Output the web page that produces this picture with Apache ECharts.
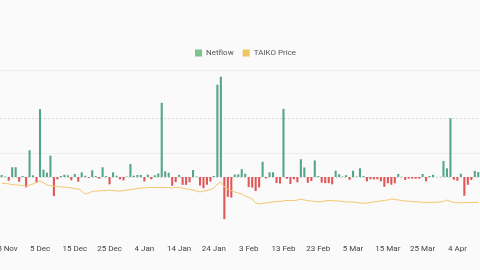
<!DOCTYPE html>
<html>
<head>
<meta charset="utf-8">
<script src="https://cdn.jsdelivr.net/npm/echarts@6/dist/echarts.min.js"></script>
<style>
  html, body { margin: 0; padding: 0; background: #fafafa; }
  #main { width: 480px; height: 270px; }
</style>
</head>
<body>
<div id="main"></div>
<script>
// day labels, one bar per day (24 Nov .. 10 Apr)
var months = [['Nov', 24, 30], ['Dec', 1, 31], ['Jan', 1, 31], ['Feb', 1, 28], ['Mar', 1, 31], ['Apr', 1, 10]];
var days = [];
months.forEach(function (m) {
  for (var d = m[1]; d <= m[2]; d++) days.push(d + ' ' + m[0]);
});

// netflow, thousand TAIKO
var netflow = [
  34, 8, -63, 165, 165, -80, 17, -175, 454, 29,
  -90, 1151, 124, 73, 362, -323, -39, 17, 39, 29,
  -56, 51, -80, 80, 22, -17, 114, 17, -29, 165,
  17, -124, 80, 22, -39, -56, 8, 221, 22, 34,
  34, -77, 39, -39, 29, 60, 1258, 97, 73, -150,
  -88, 37, -133, -133, -88, 119, 8, -145, -190, -131,
  -77, 17, 1564, 1700, -714, -335, -349, 42, 46, 133,
  56, -170, -178, -238, -175, 258, -26, 80, 80, -102,
  -110, 1156, -29, -119, -39, -90, 301, 162, -99, -68,
  281, 17, -94, -105, -105, -124, 107, 46, 8, 31,
  -48, 107, 8, 148, 17, -73, -39, -39, -39, -73,
  -165, -107, -131, -107, 51, 5, -51, -29, -29, -29,
  -29, 51, -73, 17, 39, 3, 3, 272, 148, 995,
  -46, -63, 56, -318, -131, -51, 105, 85
];

// TAIKO price, USD
var price = [
  0.635, 0.633, 0.627, 0.620, 0.614, 0.614, 0.608, 0.602, 0.614, 0.627,
  0.645, 0.663, 0.639, 0.614, 0.608, 0.602, 0.596, 0.590, 0.590, 0.584,
  0.578, 0.572, 0.566, 0.542, 0.506, 0.518, 0.536, 0.542, 0.542, 0.548,
  0.548, 0.554, 0.548, 0.542, 0.542, 0.548, 0.554, 0.560, 0.566, 0.572,
  0.578, 0.578, 0.584, 0.584, 0.584, 0.584, 0.584, 0.584, 0.584, 0.578,
  0.584, 0.584, 0.578, 0.566, 0.560, 0.554, 0.542, 0.530, 0.542, 0.548,
  0.560, 0.578, 0.627, 0.651, 0.590, 0.566, 0.548, 0.530, 0.518, 0.506,
  0.482, 0.464, 0.446, 0.398, 0.386, 0.392, 0.398, 0.404, 0.410, 0.416,
  0.416, 0.422, 0.428, 0.428, 0.428, 0.434, 0.442, 0.434, 0.425, 0.422,
  0.416, 0.413, 0.413, 0.422, 0.428, 0.428, 0.422, 0.422, 0.416, 0.410,
  0.410, 0.410, 0.404, 0.398, 0.394, 0.398, 0.404, 0.410, 0.416, 0.422,
  0.428, 0.434, 0.446, 0.440, 0.434, 0.428, 0.422, 0.419, 0.416, 0.413,
  0.410, 0.406, 0.404, 0.404, 0.406, 0.407, 0.410, 0.416, 0.434, 0.416,
  0.404, 0.401, 0.401, 0.401, 0.404, 0.404, 0.406, 0.406
];

var chart = echarts.init(document.getElementById('main'));
chart.setOption({
  backgroundColor: '#fafafa',
  animation: false,
  textStyle: { fontFamily: 'Roboto' },
  legend: {
    top: 44,
    left: 190,
    itemWidth: 7,
    itemHeight: 7,
    itemGap: 9,
    textStyle: { fontSize: 8, color: '#555', padding: [0, 0, 0, -1] },
    data: [
      { name: 'Netflow', icon: 'rect', itemStyle: { color: '#7cc48e' } },
      { name: 'TAIKO Price', icon: 'rect', itemStyle: { color: '#f2c45e' } }
    ]
  },
  grid: { left: 0, right: 0, top: 70, bottom: 34, containLabel: false, outerBoundsMode: 'none' },
  xAxis: {
    type: 'category',
    data: days,
    axisLine: { show: false },
    axisTick: { show: false },
    axisLabel: {
      fontSize: 8,
      color: '#444',
      margin: 9,
      interval: function (i) { return i % 10 === 1; }
    }
  },
  yAxis: [
    {
      type: 'value',
      min: -1000,
      max: 1814,
      interval: 1000,
      axisLabel: { show: false },
      splitLine: {
        showMinLine: false,
        showMaxLine: false,
        lineStyle: { color: '#d4d4d4', type: [2, 2] }
      }
    },
    {
      type: 'value',
      min: 0,
      max: 2,
      interval: 1,
      axisLabel: { show: false },
      splitLine: {
        showMinLine: false,
        lineStyle: { color: '#ececec' }
      }
    }
  ],
  series: [
    {
      name: 'Netflow',
      type: 'bar',
      yAxisIndex: 0,
      barCategoryGap: '40%',
      data: netflow,
      itemStyle: {
        color: function (p) { return p.value >= 0 ? '#54a687' : '#e05757'; }
      }
    },
    {
      name: 'TAIKO Price',
      type: 'line',
      yAxisIndex: 1,
      data: price,
      showSymbol: false,
      lineStyle: { width: 1, color: '#f5c66c' },
      itemStyle: { color: '#f2c45e' }
    }
  ]
});
</script>
</body>
</html>
